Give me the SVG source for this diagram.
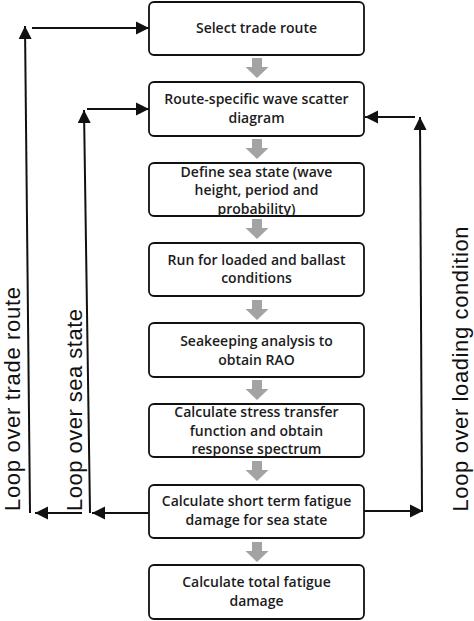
<svg xmlns="http://www.w3.org/2000/svg" width="474" height="621" viewBox="0 0 474 621">
<style>
.box rect{fill:#fff;stroke:#111;stroke-width:1.8}
.box text{font-family:"Open Sans","Liberation Sans",sans-serif;font-size:14px;font-weight:600;fill:#1c1c1c;text-anchor:middle}
.lbl{font-family:"Liberation Sans",Arial,sans-serif;font-size:22px;fill:#111;text-anchor:middle}
.con path{fill:none;stroke:#111;stroke-width:2}
.gray{fill:#a3a3a3}
</style>
<defs>
<marker id="ah" markerUnits="userSpaceOnUse" markerWidth="14" markerHeight="14" viewBox="0 0 14 14" refX="13" refY="7" orient="auto">
<path d="M0,0.5 L13,7 L0,13.5 Z" fill="#111"/>
</marker>
<path id="ga" d="M252,0 H262 V9 H268.5 L257,20 L245.5,9 H252 Z"/>
</defs>
<g id="flow" class="gray">
<use href="#ga" y="58"/>
<use href="#ga" y="139"/>
<use href="#ga" y="219"/>
<use href="#ga" y="300"/>
<use href="#ga" y="380"/>
<use href="#ga" y="461"/>
<use href="#ga" y="542"/>
</g>
<g id="n1" class="box"><rect x="149" y="2" width="215" height="53" rx="5"/><text x="256.5" y="33">Select trade route</text></g>
<g id="n2" class="box"><rect x="149" y="82" width="215" height="54" rx="5"/><text x="256.5" y="104">Route-specific wave scatter</text><text x="256.5" y="123">diagram</text></g>
<g id="n3" class="box"><rect x="149" y="163" width="215" height="53" rx="5"/><text x="256.5" y="176.5">Define sea state (wave</text><text x="256.5" y="195">height, period and</text><text x="256.5" y="213.5">probability)</text></g>
<g id="n4" class="box"><rect x="149" y="243" width="215" height="53" rx="5"/><text x="256.5" y="264.5">Run for loaded and ballast</text><text x="256.5" y="283">conditions</text></g>
<g id="n5" class="box"><rect x="149" y="323" width="215" height="54" rx="5"/><text x="256.5" y="346">Seakeeping analysis to</text><text x="256.5" y="364.5">obtain RAO</text></g>
<g id="n6" class="box"><rect x="149" y="404" width="215" height="53" rx="5"/><text x="256.5" y="417">Calculate stress transfer</text><text x="256.5" y="435.5">function and obtain</text><text x="256.5" y="454">response spectrum</text></g>
<g id="n7" class="box"><rect x="149" y="485" width="215" height="53" rx="5"/><text x="256.5" y="506">Calculate short term fatigue</text><text x="256.5" y="525">damage for sea state</text></g>
<g id="n8" class="box"><rect x="149" y="565" width="215" height="54" rx="5"/><text x="256.5" y="587">Calculate total fatigue</text><text x="256.5" y="605.5">damage</text></g>
<g id="connectors" class="con">
<path d="M82,513 H35" marker-end="url(#ah)"/>
<path d="M30,513 L25,26" marker-end="url(#ah)"/>
<path d="M32,28 H149" marker-end="url(#ah)"/>
<path d="M149,513 H92" marker-end="url(#ah)"/>
<path d="M90,513 L84,110" marker-end="url(#ah)"/>
<path d="M87,109 H149" marker-end="url(#ah)"/>
<path d="M364,511 H423" marker-end="url(#ah)"/>
<path d="M422,511 L420,117" marker-end="url(#ah)"/>
<path d="M415,117 H365" marker-end="url(#ah)"/>
</g>
<g id="labels">
<text class="lbl" transform="translate(20,399) rotate(-90)" textLength="224" lengthAdjust="spacing">Loop over trade route</text>
<text class="lbl" transform="translate(82,410) rotate(-90)" textLength="202" lengthAdjust="spacing">Loop over sea state</text>
<text class="lbl" transform="translate(468,369) rotate(-90)" textLength="285" lengthAdjust="spacing">Loop over loading condition</text>
</g>
</svg>
